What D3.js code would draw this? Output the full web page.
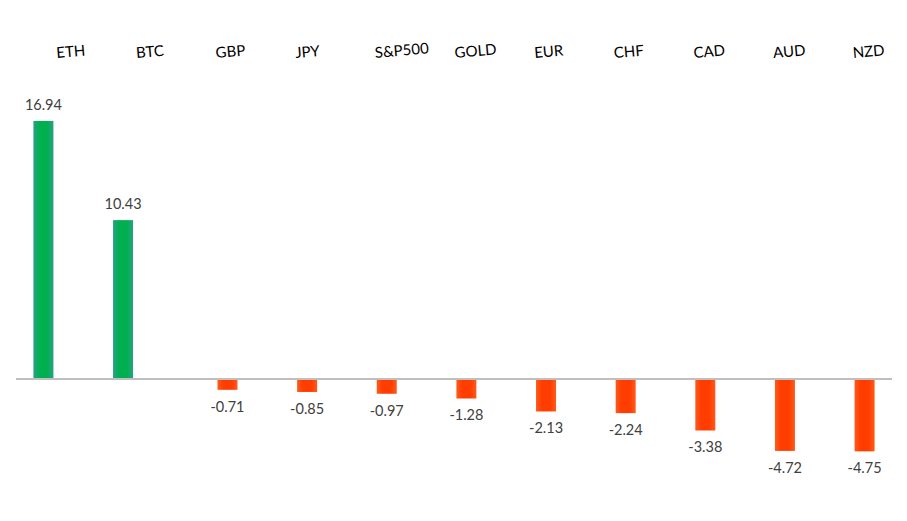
<!DOCTYPE html>
<html>
<head>
<meta charset="utf-8">
<script src="https://cdn.jsdelivr.net/npm/d3@7"></script>
<style>
html,body{margin:0;padding:0;background:#fff;}
svg{display:block;}
</style>
</head>
<body>
<svg id="chart" width="907" height="521"></svg>
<script>
const categories = ["ETH","BTC","GBP","JPY","S&P500","GOLD","EUR","CHF","CAD","AUD","NZD"];
const values = [16.94,10.43,-0.71,-0.85,-0.97,-1.28,-2.13,-2.24,-3.38,-4.72,-4.75];

const svg = d3.select("#chart");
const x = d3.scaleBand().domain(categories).range([16, 892]).padding(0);
const y = d3.scaleLinear().domain([-6, 18]).range([470.4, 104.8]);
const barW = 20, offset = 12.4;

const defs = svg.append("defs");
function grad(id, edge, mid){
  const g = defs.append("linearGradient").attr("id", id).attr("x1","0%").attr("x2","100%").attr("y1","0%").attr("y2","0%");
  [[0,edge],[0.3,mid],[0.7,mid],[1,edge]].forEach(([o,c])=>g.append("stop").attr("offset",o).attr("stop-color",c));
}
grad("gPos", "#2a9f86", "#00b050");
grad("gNeg", "#ff5a1c", "#ff3d00");

const data = categories.map((c,i)=>({c, v: values[i], i}));
const cx = d => x(d.c) + x.bandwidth()/2 + (d.v >= 0 ? -offset : offset);

svg.append("g").selectAll("rect").data(data).join("rect")
  .attr("x", d => cx(d) - barW/2)
  .attr("width", barW)
  .attr("y", d => y(Math.max(0, d.v)))
  .attr("height", d => Math.abs(y(d.v) - y(0)))
  .attr("fill", d => d.v >= 0 ? "url(#gPos)" : "url(#gNeg)");

svg.append("line")
  .attr("x1", 16).attr("x2", 892)
  .attr("y1", y(0)).attr("y2", y(0))
  .attr("stroke", "#bfbfbf").attr("stroke-width", 2);

svg.append("g").selectAll("text").data(data).join("text")
  .attr("x", d => cx(d))
  .attr("y", d => d.v >= 0 ? y(d.v) - 11 : y(d.v) + 22)
  .attr("text-anchor", "middle")
  .attr("font-family", "Lato, 'Open Sans', sans-serif")
  .attr("font-size", 14.5)
  .attr("fill", "#404040")
  .text(d => d.v.toFixed(2));

svg.append("g").selectAll("text").data(categories).join("text")
  .attr("transform", d => `translate(${x(d) + x.bandwidth()/2 + 1},58) rotate(-5)`)
  .attr("text-anchor", "start")
  .attr("font-family", "Lato, 'Open Sans', sans-serif")
  .attr("font-size", 15)
  .attr("fill", "#000")
  .text(d => d);
</script>
</body>
</html>
